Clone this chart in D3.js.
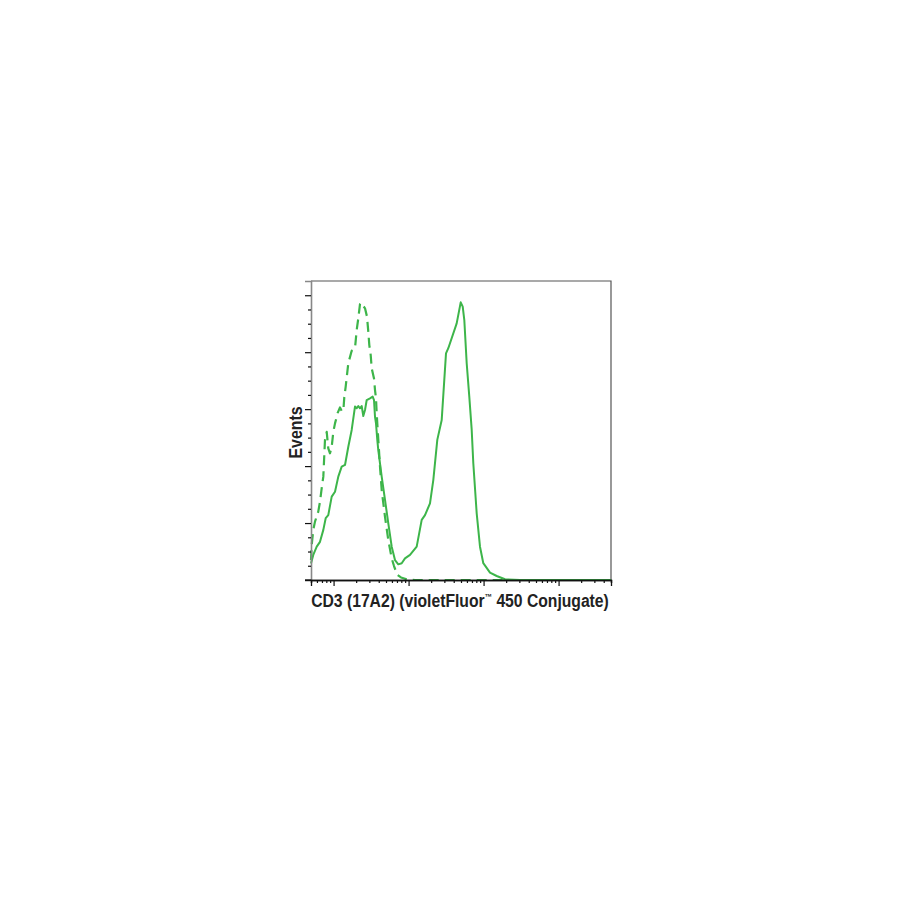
<!DOCTYPE html>
<html>
<head>
<meta charset="utf-8">
<script src="https://cdn.jsdelivr.net/npm/d3@7"></script>
<style>
  html, body { margin: 0; padding: 0; background: #fff; }
  svg { display: block; }
</style>
</head>
<body>
<svg id="chart" width="900" height="900"></svg>
<script>
// ---- data (fluorescence intensity, events scaled 0-105) ----
const stainedX = [50, 53.6, 59.6, 65.9, 73, 78.5, 85, 94.4, 104.5, 115.6, 128.3, 142, 157.2, 174.4, 193, 203.4, 213.6, 225, 237, 249, 262.4, 276.5, 306, 332, 346, 356.8, 367.8, 382.8, 394.7, 438, 485, 536.6, 595.5, 659, 729.5, 809.5, 896, 1045, 1283, 1496, 1656, 1930, 2136, 2415, 2765, 3155, 3386, 4380, 4955, 5270, 5535, 5955, 6450, 6945, 7295, 8095, 8960, 9915, 12180, 14960, 19300, 30600, 500000];
const stainedY = [5.8, 8.8, 11.7, 13.4, 17.6, 21.7, 22.8, 29.3, 31.0, 36.3, 39.8, 40.4, 46.8, 52.7, 60.9, 60.3, 61.1, 60.3, 61.1, 57.6, 59.7, 63.2, 63.8, 64.4, 63.2, 57.3, 55.0, 49.2, 45.6, 36.3, 28.1, 19.9, 11.7, 7.0, 5.5, 5.9, 7.6, 8.8, 11.7, 21.1, 22.8, 26.9, 35.1, 49.2, 56.2, 79.6, 81.4, 90.1, 97.5, 96.0, 91.3, 76.1, 64.4, 52.7, 41.0, 23.4, 11.7, 5.9, 2.6, 1.4, 0.25, 0, 0];

const controlX = [50, 51.1, 53.6, 56.5, 62.5, 65.9, 69.4, 73, 76.8, 81, 85, 89.6, 94.4, 99.2, 104.5, 113.5, 121.8, 128.3, 134.8, 139, 145, 157.2, 174.4, 193, 203.4, 213.6, 225, 232, 262.4, 279, 290.4, 299.5, 312.6, 322.4, 346, 356.8, 367.8, 375.8, 387.5, 416, 438, 485, 536.6, 595.5, 639.5, 707.5, 792, 944, 1218, 500000];
const controlY = [7.0, 12.3, 17.6, 20.5, 24.0, 27.5, 32.2, 36.3, 49.2, 52.0, 46.2, 44.5, 46.8, 52.0, 55.0, 58.7, 60.6, 59.4, 59.3, 64.2, 67.9, 76.1, 80.5, 81.4, 87.8, 91.9, 96.9, 97.4, 95.4, 92.5, 87.2, 82.5, 79.0, 74.3, 70.8, 66.7, 63.8, 58.5, 52.7, 39.8, 31.6, 22.2, 14.0, 7.6, 4.9, 1.8, 0.9, 0.25, 0, 0];

const xDomain = [50, 500000];
const yDomain = [0, 105];
const xMajorTicks = [100, 1000, 10000, 100000];
const yMajorTicks = [0, 20, 40, 60, 80, 100];
const xLabelParts = ["CD3 (17A2) (violetFluor", "\u2122", " 450 Conjugate)"];
const yLabel = "Events";

// ---- layout ----
const L = 311, R = 611, T = 281, B = 580;
const green = "#3db54a";

const svg = d3.select("#chart");
const x = d3.scaleLog().domain(xDomain).range([L, R]);
const y = d3.scaleLinear().domain(yDomain).range([B, T]);

// minor ticks
const xMinor = [];
for (let e = 1; e <= 5; e++) {
  for (let m = 2; m <= 9; m++) {
    const v = m * Math.pow(10, e);
    if (v >= xDomain[0] && v <= xDomain[1]) xMinor.push(v);
  }
}
const yMinor = d3.range(5, 105, 5).filter(v => v % 20 !== 0);

// frame (top & right)
svg.append("path")
  .attr("d", `M${L},${T}H${R}V${B}`)
  .attr("fill", "none").attr("stroke", "#555").attr("stroke-width", 1.2);

// curves
const line = (xs, ys) => d3.line()
  .x((d, i) => x(xs[i]))
  .y((d, i) => y(ys[i]))
  .curve(d3.curveLinear)(xs);

svg.append("path")
  .attr("d", line(controlX, controlY))
  .attr("fill", "none").attr("stroke", green).attr("stroke-width", 2.2)
  .attr("stroke-dasharray", "10,6").attr("stroke-linejoin", "round");

svg.append("path")
  .attr("d", line(stainedX, stainedY))
  .attr("fill", "none").attr("stroke", green).attr("stroke-width", 2)
  .attr("stroke-linejoin", "round");

// y axis
const yAxisG = svg.append("g").attr("transform", `translate(${L},0)`);
yAxisG.call(d3.axisLeft(y).tickValues(yMajorTicks).tickSize(6).tickFormat(""));
yAxisG.append("g").call(d3.axisLeft(y).tickValues(yMinor).tickSize(3).tickFormat(""));
yAxisG.selectAll(".domain").attr("stroke", "#888").attr("stroke-width", 1.6);
yAxisG.selectAll(".domain").filter((d, i) => i > 0).remove();
yAxisG.selectAll(".tick line").attr("stroke", "#111").attr("stroke-width", 1.2);

// x axis
const xAxisG = svg.append("g").attr("transform", `translate(0,${B})`);
xAxisG.call(d3.axisBottom(x).tickValues(xMajorTicks).tickSize(6).tickFormat(""));
xAxisG.append("g").call(d3.axisBottom(x).tickValues(xMinor).tickSize(3).tickFormat(""));
xAxisG.selectAll(".domain").attr("stroke", "#111").attr("stroke-width", 1.3);
xAxisG.selectAll(".tick line").attr("stroke", "#111").attr("stroke-width", 1.2);
svg.append("line").attr("x1", L - 6).attr("x2", L).attr("y1", B).attr("y2", B)
  .attr("stroke", "#111").attr("stroke-width", 1.3);

// labels (condensed via horizontal scaling)
const font = "'Liberation Sans Narrow', 'Arial Narrow', 'Liberation Sans', Arial, sans-serif";
const xg = svg.append("g");
const xl = xg.append("text")
  .attr("x", 0).attr("y", 0)
  .attr("text-anchor", "middle")
  .attr("font-family", font).attr("font-weight", "bold").attr("font-size", 19)
  .attr("fill", "#222");
xl.append("tspan").text(xLabelParts[0]);
xl.append("tspan").attr("font-size", 9).attr("dy", -7).text(xLabelParts[1]);
xl.append("tspan").attr("dy", 7).text(xLabelParts[2]);
const xw = xl.node().getBBox().width;
xg.attr("transform", `translate(460,607) scale(${298 / xw},1)`);

const yg = svg.append("g");
const yl = yg.append("text")
  .attr("x", 0).attr("y", 0)
  .attr("text-anchor", "middle")
  .attr("font-family", font).attr("font-weight", "bold").attr("font-size", 19)
  .attr("fill", "#222")
  .text(yLabel);
const yw = yl.node().getBBox().width;
yg.attr("transform", `translate(302,432.5) rotate(-90) scale(${52 / yw},1)`);
</script>
</body>
</html>
